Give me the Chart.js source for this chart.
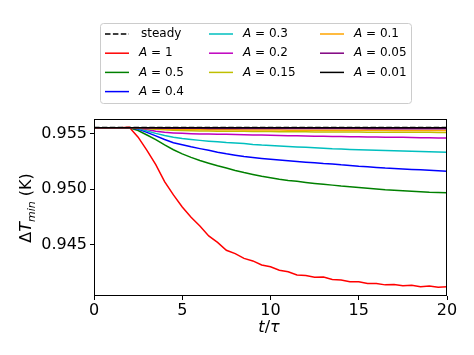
<!DOCTYPE html>
<html><head><meta charset="utf-8">
<script src="https://cdn.jsdelivr.net/npm/chart.js@4.4.1/dist/chart.umd.min.js"></script>
<style>html,body{margin:0;padding:0;background:#fff;}canvas{display:block}</style>
</head><body>
<canvas id="c" width="474" height="355"></canvas>
<script>
// time axis t/tau
const tValues = [0,0.5,1,1.5,2,2.5,3,3.5,4,4.5,5,5.5,6,6.5,7,7.5,8,8.5,9,9.5,10,10.5,11,11.5,12,12.5,13,13.5,14,14.5,15,15.5,16,16.5,17,17.5,18,18.5,19,19.5,20];
const xTicks = [0,5,10,15,20];
const yTicks = [0.945,0.950,0.955];

const steady = [0.95553,0.95553,0.95553,0.95553,0.95553,0.95553,0.95553,0.95553,0.95553,0.95553,0.95553,0.95553,0.95553,0.95553,0.95553,0.95553,0.95553,0.95553,0.95553,0.95553,0.95553,0.95553,0.95553,0.95553,0.95553,0.95553,0.95553,0.95553,0.95553,0.95553,0.95553,0.95553,0.95553,0.95553,0.95553,0.95553,0.95553,0.95553,0.95553,0.95553,0.95553];
const a100 = [0.95551,0.95551,0.95551,0.95551,0.95556,0.95467,0.95349,0.95220,0.95067,0.94948,0.94840,0.94747,0.94668,0.94580,0.94522,0.94451,0.94421,0.94378,0.94355,0.94319,0.94302,0.94272,0.94258,0.94229,0.94224,0.94209,0.94210,0.94189,0.94184,0.94168,0.94168,0.94152,0.94153,0.94140,0.94144,0.94133,0.94137,0.94124,0.94129,0.94118,0.94123];
const a050 = [0.95551,0.95551,0.95551,0.95551,0.95551,0.95527,0.95486,0.95445,0.95397,0.95354,0.95317,0.95285,0.95257,0.95233,0.95210,0.95189,0.95168,0.95149,0.95132,0.95115,0.95102,0.95089,0.95078,0.95070,0.95060,0.95051,0.95043,0.95036,0.95028,0.95022,0.95015,0.95008,0.95002,0.94995,0.94990,0.94986,0.94982,0.94977,0.94971,0.94969,0.94967];
const a040 = [0.95551,0.95551,0.95551,0.95551,0.95551,0.95540,0.95510,0.95478,0.95446,0.95417,0.95398,0.95380,0.95364,0.95349,0.95332,0.95317,0.95305,0.95293,0.95284,0.95276,0.95269,0.95262,0.95255,0.95249,0.95242,0.95236,0.95230,0.95226,0.95218,0.95213,0.95205,0.95200,0.95195,0.95189,0.95185,0.95181,0.95177,0.95173,0.95169,0.95165,0.95161];
const a030 = [0.95551,0.95551,0.95551,0.95551,0.95551,0.95545,0.95522,0.95501,0.95482,0.95466,0.95455,0.95446,0.95438,0.95431,0.95425,0.95419,0.95415,0.95410,0.95402,0.95396,0.95392,0.95388,0.95383,0.95379,0.95376,0.95372,0.95368,0.95363,0.95360,0.95357,0.95354,0.95352,0.95349,0.95347,0.95344,0.95342,0.95340,0.95337,0.95335,0.95333,0.95331];
const a020 = [0.95551,0.95551,0.95551,0.95551,0.95551,0.95548,0.95535,0.95520,0.95510,0.95505,0.95501,0.95498,0.95496,0.95495,0.95493,0.95492,0.95490,0.95489,0.95487,0.95486,0.95485,0.95482,0.95480,0.95479,0.95477,0.95476,0.95475,0.95473,0.95472,0.95471,0.95470,0.95469,0.95468,0.95467,0.95466,0.95465,0.95464,0.95462,0.95461,0.95460,0.95459];
const a015 = [0.95551,0.95551,0.95551,0.95551,0.95551,0.95549,0.95543,0.95538,0.95533,0.95530,0.95527,0.95525,0.95523,0.95522,0.95521,0.95521,0.95520,0.95519,0.95518,0.95518,0.95517,0.95516,0.95516,0.95515,0.95515,0.95514,0.95514,0.95514,0.95513,0.95513,0.95513,0.95512,0.95512,0.95511,0.95511,0.95511,0.95510,0.95510,0.95510,0.95509,0.95509];
const a010 = [0.95551,0.95551,0.95551,0.95551,0.95551,0.95550,0.95547,0.95544,0.95541,0.95539,0.95537,0.95536,0.95535,0.95534,0.95534,0.95533,0.95533,0.95532,0.95532,0.95531,0.95531,0.95531,0.95530,0.95530,0.95530,0.95530,0.95529,0.95529,0.95529,0.95529,0.95529,0.95528,0.95528,0.95528,0.95527,0.95527,0.95527,0.95527,0.95526,0.95526,0.95526];
const a005 = [0.95551,0.95551,0.95551,0.95551,0.95551,0.95551,0.95550,0.95549,0.95548,0.95547,0.95547,0.95546,0.95546,0.95545,0.95545,0.95545,0.95545,0.95545,0.95545,0.95545,0.95545,0.95544,0.95544,0.95544,0.95544,0.95544,0.95544,0.95544,0.95544,0.95544,0.95544,0.95543,0.95543,0.95543,0.95543,0.95543,0.95542,0.95542,0.95542,0.95542,0.95542];
const a001 = [0.95551,0.95551,0.95551,0.95551,0.95551,0.95552,0.95552,0.95552,0.95552,0.95552,0.95552,0.95552,0.95552,0.95552,0.95552,0.95552,0.95552,0.95552,0.95552,0.95552,0.95552,0.95552,0.95552,0.95552,0.95552,0.95552,0.95552,0.95552,0.95552,0.95552,0.95552,0.95552,0.95552,0.95552,0.95552,0.95552,0.95552,0.95552,0.95552,0.95552,0.95552];

const seriesLabels = ['steady','1','0.5','0.4','0.3','0.2','0.15','0.1','0.05','0.01'];
const seriesColors = ['#000000','#ff0000','#008000','#0000ff','#00bfbf','#bf00bf','#bfbf00','#ffa500','#800080','#000000'];
const seriesData = [steady,a100,a050,a040,a030,a020,a015,a010,a005,a001];

const FONT = '"DejaVu Sans", sans-serif';

const datasets = seriesData.map((vals,i)=>({
  label: seriesLabels[i],
  data: vals.map((v,k)=>({x:tValues[k], y:v})),
  borderColor: seriesColors[i],
  backgroundColor: seriesColors[i],
  borderWidth: 1.5,
  borderDash: i===0 ? [5.5,2.4] : [],
  pointRadius: 0,
  tension: 0,
  fill: false,
  order: 20 - i
}));

const deco = {
  id: 'deco',
  afterDatasetsDraw(chart){
    const {ctx, chartArea:a} = chart;
    ctx.save();
    ctx.strokeStyle = '#000';
    ctx.lineWidth = 1;
    ctx.strokeRect(Math.floor(a.left)+0.5, Math.floor(a.top)+0.5, Math.round(a.right-a.left)-1, Math.round(a.bottom-a.top)-1);
    ctx.restore();
  },
  afterDraw(chart){
    const ctx = chart.ctx;
    ctx.save();
    // legend box
    const bx=100.5, by=23.5, bw=311, bh=80, r=3;
    ctx.beginPath();
    ctx.moveTo(bx+r,by); ctx.lineTo(bx+bw-r,by); ctx.quadraticCurveTo(bx+bw,by,bx+bw,by+r);
    ctx.lineTo(bx+bw,by+bh-r); ctx.quadraticCurveTo(bx+bw,by+bh,bx+bw-r,by+bh);
    ctx.lineTo(bx+r,by+bh); ctx.quadraticCurveTo(bx,by+bh,bx,by+bh-r);
    ctx.lineTo(bx,by+r); ctx.quadraticCurveTo(bx,by,bx+r,by); ctx.closePath();
    ctx.fillStyle='rgba(255,255,255,0.9)'; ctx.fill();
    ctx.strokeStyle='#cccccc'; ctx.lineWidth=1; ctx.stroke();
    const colX = [105,209,320];
    const perCol = [4,3,3];
    let idx = 0;
    ctx.textBaseline = 'middle';
    for (let c=0;c<3;c++){
      for (let rr=0;rr<perCol[c];rr++){
        const ds = chart.data.datasets[idx];
        const y = 34 + 19.2*rr;
        ctx.beginPath();
        ctx.setLineDash(ds.borderDash||[]);
        ctx.strokeStyle = ds.borderColor; ctx.lineWidth = 1.5;
        ctx.moveTo(colX[c], y); ctx.lineTo(colX[c]+24, y); ctx.stroke();
        ctx.setLineDash([]);
        ctx.fillStyle = '#000';
        let x = colX[c]+34;
        if (idx===0){
          ctx.font = '12px '+FONT; ctx.fillText('steady', x+2, y);
        } else {
          ctx.font = 'italic 12px '+FONT; ctx.fillText('A', x, y);
          x += ctx.measureText('A').width;
          ctx.font = '12px '+FONT; ctx.fillText(' = '+ds.label, x, y);
        }
        idx++;
      }
    }
    // y axis title: ΔT_min (K)
    ctx.textBaseline = 'alphabetic';
    ctx.translate(31, 208);
    ctx.rotate(-Math.PI/2);
    const parts = [
      {t:'Δ', f:'16px '+FONT, dy:0},
      {t:'T', f:'italic 16px '+FONT, dy:0},
      {t:'min', f:'italic 11px '+FONT, dy:3.5},
      {t:' (K)', f:'16px '+FONT, dy:0}
    ];
    let tw = 0;
    parts.forEach(p=>{ctx.font=p.f; p.w=ctx.measureText(p.t).width; tw+=p.w;});
    let px = -tw/2;
    parts.forEach(p=>{ctx.font=p.f; ctx.fillText(p.t, px, p.dy); px+=p.w;});
    ctx.setTransform(1,0,0,1,0,0);
    // x axis title: t/τ
    const xp = [
      {t:'t', f:'italic 16px '+FONT},
      {t:'/', f:'16px '+FONT},
      {t:'τ', f:'italic 16px '+FONT}
    ];
    tw = 0;
    xp.forEach(p=>{ctx.font=p.f; p.w=ctx.measureText(p.t).width; tw+=p.w;});
    px = 269 - tw/2;
    xp.forEach(p=>{ctx.font=p.f; ctx.fillText(p.t, px, 332); px+=p.w;});
    ctx.restore();
  }
};

new Chart(document.getElementById('c'), {
  type: 'line',
  data: { datasets },
  options: {
    responsive: false,
    animation: false,
    devicePixelRatio: 1,
    layout: { padding: { left: 0, top: 119, right: 27, bottom: 0 } },
    plugins: { legend: { display: false }, tooltip: { enabled: false } },
    scales: {
      x: {
        type: 'linear', min: 0, max: 20,
        afterFit(s){ s.height = 59; },
        afterBuildTicks(s){ s.ticks = xTicks.map(v=>({value:v})); },
        ticks: { font: { family: FONT, size: 16 }, color: '#000', padding: 1, maxRotation: 0, callback: v => String(v) },
        grid: { display: true, drawOnChartArea: false, drawTicks: true, tickLength: 4, color: '#000', lineWidth: 1 },
        border: { display: false }
      },
      y: {
        type: 'linear', min: 0.9404, max: 0.9563,
        afterFit(s){ s.width = 94; },
        afterBuildTicks(s){ s.ticks = yTicks.map(v=>({value:v})); },
        ticks: { font: { family: FONT, size: 16 }, color: '#000', padding: 3, callback: v => Number(v).toFixed(3) },
        grid: { display: true, drawOnChartArea: false, drawTicks: true, tickLength: 4, color: '#000', lineWidth: 1 },
        border: { display: false }
      }
    }
  },
  plugins: [deco]
});
</script>
</body></html>
